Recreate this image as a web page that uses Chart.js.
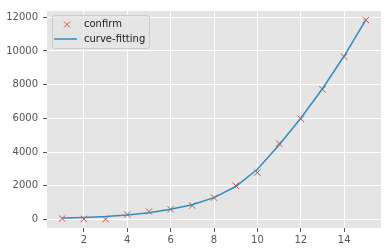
<!DOCTYPE html>
<html>
<head>
<meta charset="utf-8">
<script src="https://cdn.jsdelivr.net/npm/chart.js@4/dist/chart.umd.min.js"></script>
<style>
  html, body { margin: 0; padding: 0; background: #ffffff; }
  #wrap { width: 391px; height: 252px; }
</style>
</head>
<body>
<div id="wrap"><canvas id="c" width="391" height="252"></canvas></div>
<script>
// ---- data ----
const xValues = [1, 2, 3, 4, 5, 6, 7, 8, 9, 10, 11, 12, 13, 14, 15];
const confirmValues = [60, 35, 25, 300, 480, 610, 830, 1300, 2010, 2790, 4510, 5980, 7730, 9660, 11830];
const fitValues = [95, 125, 180, 270, 410, 610, 880, 1300, 1960, 2980, 4420, 6010, 7760, 9700, 11840];
const xTicks = [2, 4, 6, 8, 10, 12, 14];
const yTicks = [0, 2000, 4000, 6000, 8000, 10000, 12000];
const seriesLabels = ['confirm', 'curve-fitting'];

const FONT = '"DejaVu Sans", sans-serif';

const bgPlugin = {
  id: 'plotBg',
  beforeDraw(chart) {
    const { ctx, chartArea: a } = chart;
    ctx.save();
    ctx.fillStyle = '#E5E5E5';
    ctx.fillRect(a.left, a.top, a.right - a.left, a.bottom - a.top);
    ctx.restore();
  }
};

const legendPlugin = {
  id: 'mplLegend',
  afterDraw(chart) {
    const { ctx, chartArea: a } = chart;
    const x0 = a.left + 5, y0 = a.top + 4, w = 97, h = 33;
    ctx.save();
    ctx.beginPath();
    ctx.roundRect(x0 + 0.5, y0 + 0.5, w, h, 2.5);
    ctx.fillStyle = 'rgba(229,229,229,0.8)';
    ctx.fill();
    ctx.strokeStyle = '#cccccc';
    ctx.lineWidth = 1;
    ctx.stroke();
    ctx.font = '10px ' + FONT;
    ctx.textBaseline = 'middle';
    ctx.fillStyle = '#1a1a1a';
    const ds = chart.data.datasets;
    // confirm row
    const r1 = y0 + 9.5, r2 = y0 + 24;
    const mx = x0 + 15;
    ctx.strokeStyle = ds[0].borderColor;
    ctx.lineWidth = 1;
    const m = 3;
    ctx.beginPath();
    ctx.moveTo(mx - m, r1 - m); ctx.lineTo(mx + m, r1 + m);
    ctx.moveTo(mx - m, r1 + m); ctx.lineTo(mx + m, r1 - m);
    ctx.stroke();
    ctx.fillText(ds[0].label, x0 + 32, r1);
    // line row
    ctx.strokeStyle = ds[1].borderColor;
    ctx.lineWidth = 1.5;
    ctx.beginPath();
    ctx.moveTo(x0 + 2, r2); ctx.lineTo(x0 + 25, r2);
    ctx.stroke();
    ctx.fillText(ds[1].label, x0 + 32, r2);
    ctx.restore();
  }
};

new Chart(document.getElementById('c'), {
  type: 'scatter',
  data: {
    datasets: [
      {
        label: seriesLabels[0],
        data: xValues.map((x, i) => ({ x: x, y: confirmValues[i] })),
        pointStyle: 'crossRot',
        pointRadius: 4.5,
        pointBorderWidth: 1,
        borderColor: '#E24A33',
        backgroundColor: '#E24A33',
        showLine: false,
        order: 1
      },
      {
        label: seriesLabels[1],
        data: xValues.map((x, i) => ({ x: x, y: fitValues[i] })),
        borderColor: '#348ABD',
        backgroundColor: '#348ABD',
        borderWidth: 1.5,
        pointRadius: 0,
        showLine: true,
        tension: 0,
        order: 0
      }
    ]
  },
  options: {
    responsive: false,
    animation: false,
    devicePixelRatio: 1,
    layout: { padding: { left: 0, right: 10, top: 11, bottom: 0 } },
    plugins: { legend: { display: false }, tooltip: { enabled: false } },
    scales: {
      x: {
        type: 'linear',
        min: 0.3,
        max: 15.7,
        afterBuildTicks(scale) { scale.ticks = xTicks.map(v => ({ value: v })); },
        afterFit(scale) { scale.height = 24; },
        grid: { color: '#ffffff', lineWidth: 1, drawTicks: true, tickLength: 4, tickColor: '#555555', tickWidth: 1 },
        border: { display: false },
        ticks: { color: '#555555', font: { family: FONT, size: 10 }, padding: 2, maxRotation: 0 }
      },
      y: {
        type: 'linear',
        min: -500,
        max: 12370,
        afterBuildTicks(scale) { scale.ticks = yTicks.map(v => ({ value: v })); },
        afterFit(scale) { scale.width = 47; },
        grid: { color: '#ffffff', lineWidth: 1, drawTicks: true, tickLength: 4, tickColor: '#555555', tickWidth: 1 },
        border: { display: false },
        ticks: { color: '#555555', font: { family: FONT, size: 10 }, padding: 5, callback: v => String(v) }
      }
    }
  },
  plugins: [bgPlugin, legendPlugin]
});
</script>
</body>
</html>
